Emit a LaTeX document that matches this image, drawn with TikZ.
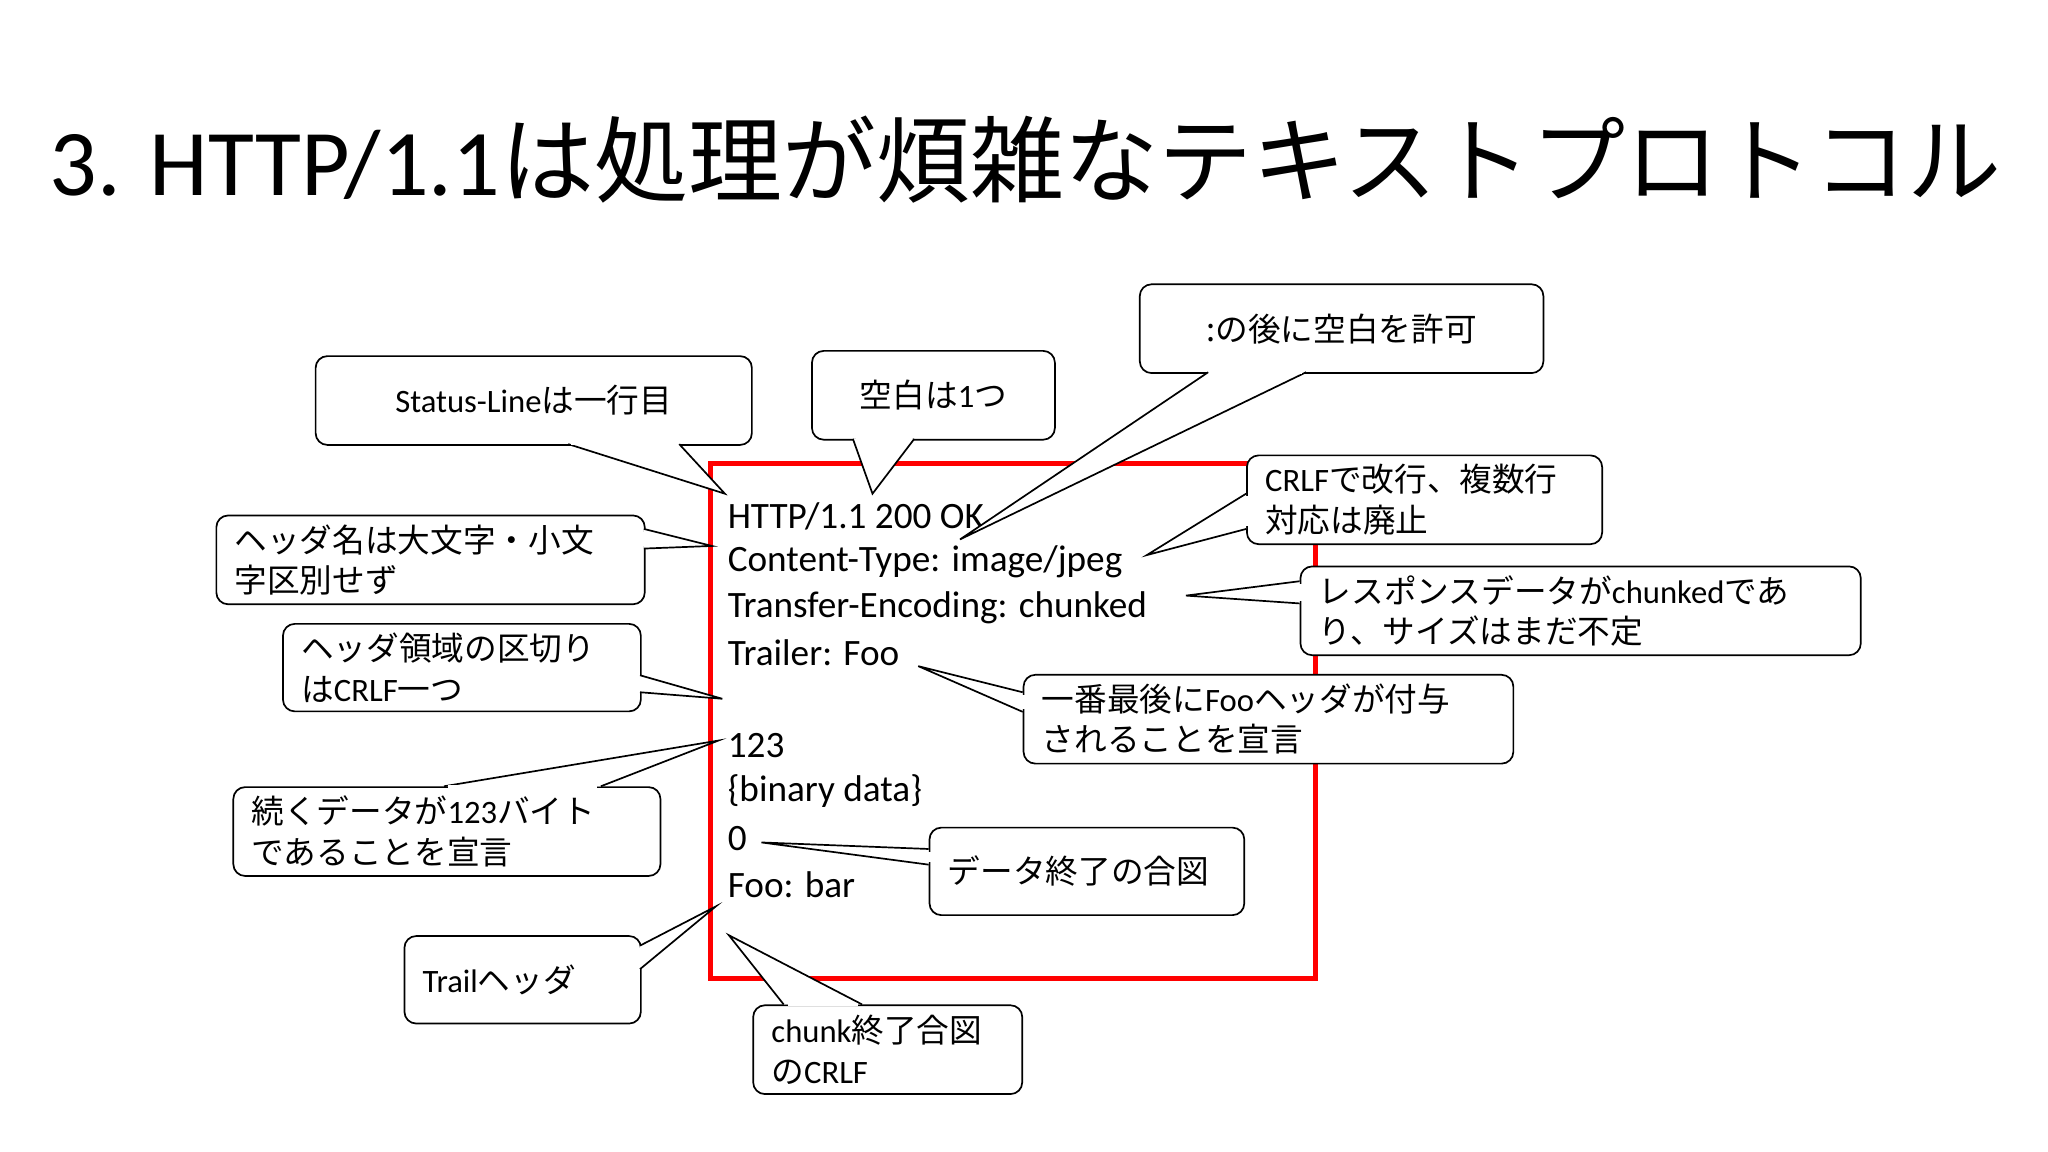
\documentclass[tikz,border=0pt]{standalone}
\usepackage{fontspec}
\setmainfont{Carlito}
\newfontfamily\jp{Noto Sans CJK JP}
\newcommand{\J}[1]{{\jp #1}}
\begin{document}
\begin{tikzpicture}[x=1pt,y=-1pt,
  cbox/.style={draw=black,line width=1.3pt,fill=white,rounded corners=9pt,anchor=north west,align=left,inner xsep=14pt,font=\fontsize{25}{31}\selectfont},
  ptr/.style={draw=black,line width=1.3pt,fill=white},
  body/.style={anchor=west,inner sep=0pt,font=\fontsize{28.5}{32}\selectfont}]
\useasboundingbox (0,0) rectangle (1568,882);
\node[anchor=west,inner sep=0pt,font=\fontsize{72}{80}\selectfont] (title) at (38,122) {3. HTTP/1.1\J{は処理が煩雑なテキストプロトコル}};
\draw[red,line width=4pt] (544,355) rectangle (1007,749);
\node[body] (l1) at (557,395) {HTTP/1.1 200 OK};
\node[body] (l2) at (557,430) {Content-Type: image/jpeg};
\node[body] (l3) at (557,465) {Transfer-Encoding: chunked};
\node[body] (l4) at (557,500) {Trailer: Foo};
\node[body] (l5) at (557,571) {123};
\node[body] (l6) at (557,606) {\{binary data\}};
\node[body] (l7) at (557,642) {0};
\node[body] (l8) at (557,677) {Foo: bar};
\newcommand{\callout}[9]{%
  \node[cbox,minimum width=#4,minimum height=#5,text width=#4-28,align=#9] (#1) at (#2,#3) {#6};
  \filldraw[ptr] #7;
  \fill[white] #8;}
\callout{c1}{241}{272}{334}{68}{Status-Line\J{は一行目}}{(435,340)--(555,378)--(520,340)}{(437,339.5) rectangle (518,341)}{center}
\callout{c2}{621}{268}{186}{68}{\J{空白は}1\J{つ}}{(653,336)--(668,378)--(700,336)}{(655,335.5) rectangle (698,337)}{center}
\callout{c3}{872}{217}{309}{68}{\J{:の後に空白を許可}}{(925,285)--(735,413)--(1000,285)}{(928,284.5) rectangle (997,286)}{center}
\callout{c4}{954}{348}{272}{68}{CRLF\J{で改行、複数行}\\\J{対応は廃止}}{(954,378)--(878,425)--(954,405)}{(953,380) rectangle (955.5,403)}{left}
\callout{c5}{165}{394}{328}{68}{\J{ヘッダ名は大文字・小文}\\\J{字区別せず}}{(493,405)--(545,418)--(493,420)}{(491.5,407) rectangle (494,418)}{left}
\callout{c6}{995}{433}{429}{68}{\J{レスポンスデータが}chunked\J{であ}\\\J{り、サイズはまだ不定}}{(995,445)--(908,456)--(995,462)}{(994,447) rectangle (996.5,460)}{left}
\callout{c7}{216}{477}{274}{67}{\J{ヘッダ領域の区切り}\\\J{は}CRLF\J{一つ}}{(490,517)--(553,535)--(490,530)}{(488.5,519) rectangle (491,528)}{left}
\callout{c8}{783}{516}{375}{68}{\J{一番最後に}Foo\J{ヘッダが付与}\\\J{されることを宣言}}{(783,530)--(703,510)--(783,545)}{(782,532) rectangle (784.5,543)}{left}
\callout{c9}{178}{602}{327}{68}{\J{続くデータが}123\J{バイト}\\\J{であることを宣言}}{(340,602)--(550,567)--(460,602)}{(343,601) rectangle (457,603.5)}{left}
\callout{c10}{711}{633}{241}{67}{\J{データ終了の合図}}{(711,650)--(583,645)--(711,662)}{(710,652) rectangle (712.5,660)}{left}
\callout{c11}{309}{716}{181}{67}{Trail\J{ヘッダ}}{(490,724)--(548,694)--(490,742)}{(488.5,726) rectangle (491,740)}{left}
\callout{c12}{576}{769}{206}{68}{chunk\J{終了合図}\\\J{の}CRLF}{(600,769)--(558,716)--(660,769)}{(603,768) rectangle (657,770.5)}{left}
\end{tikzpicture}
\end{document}
